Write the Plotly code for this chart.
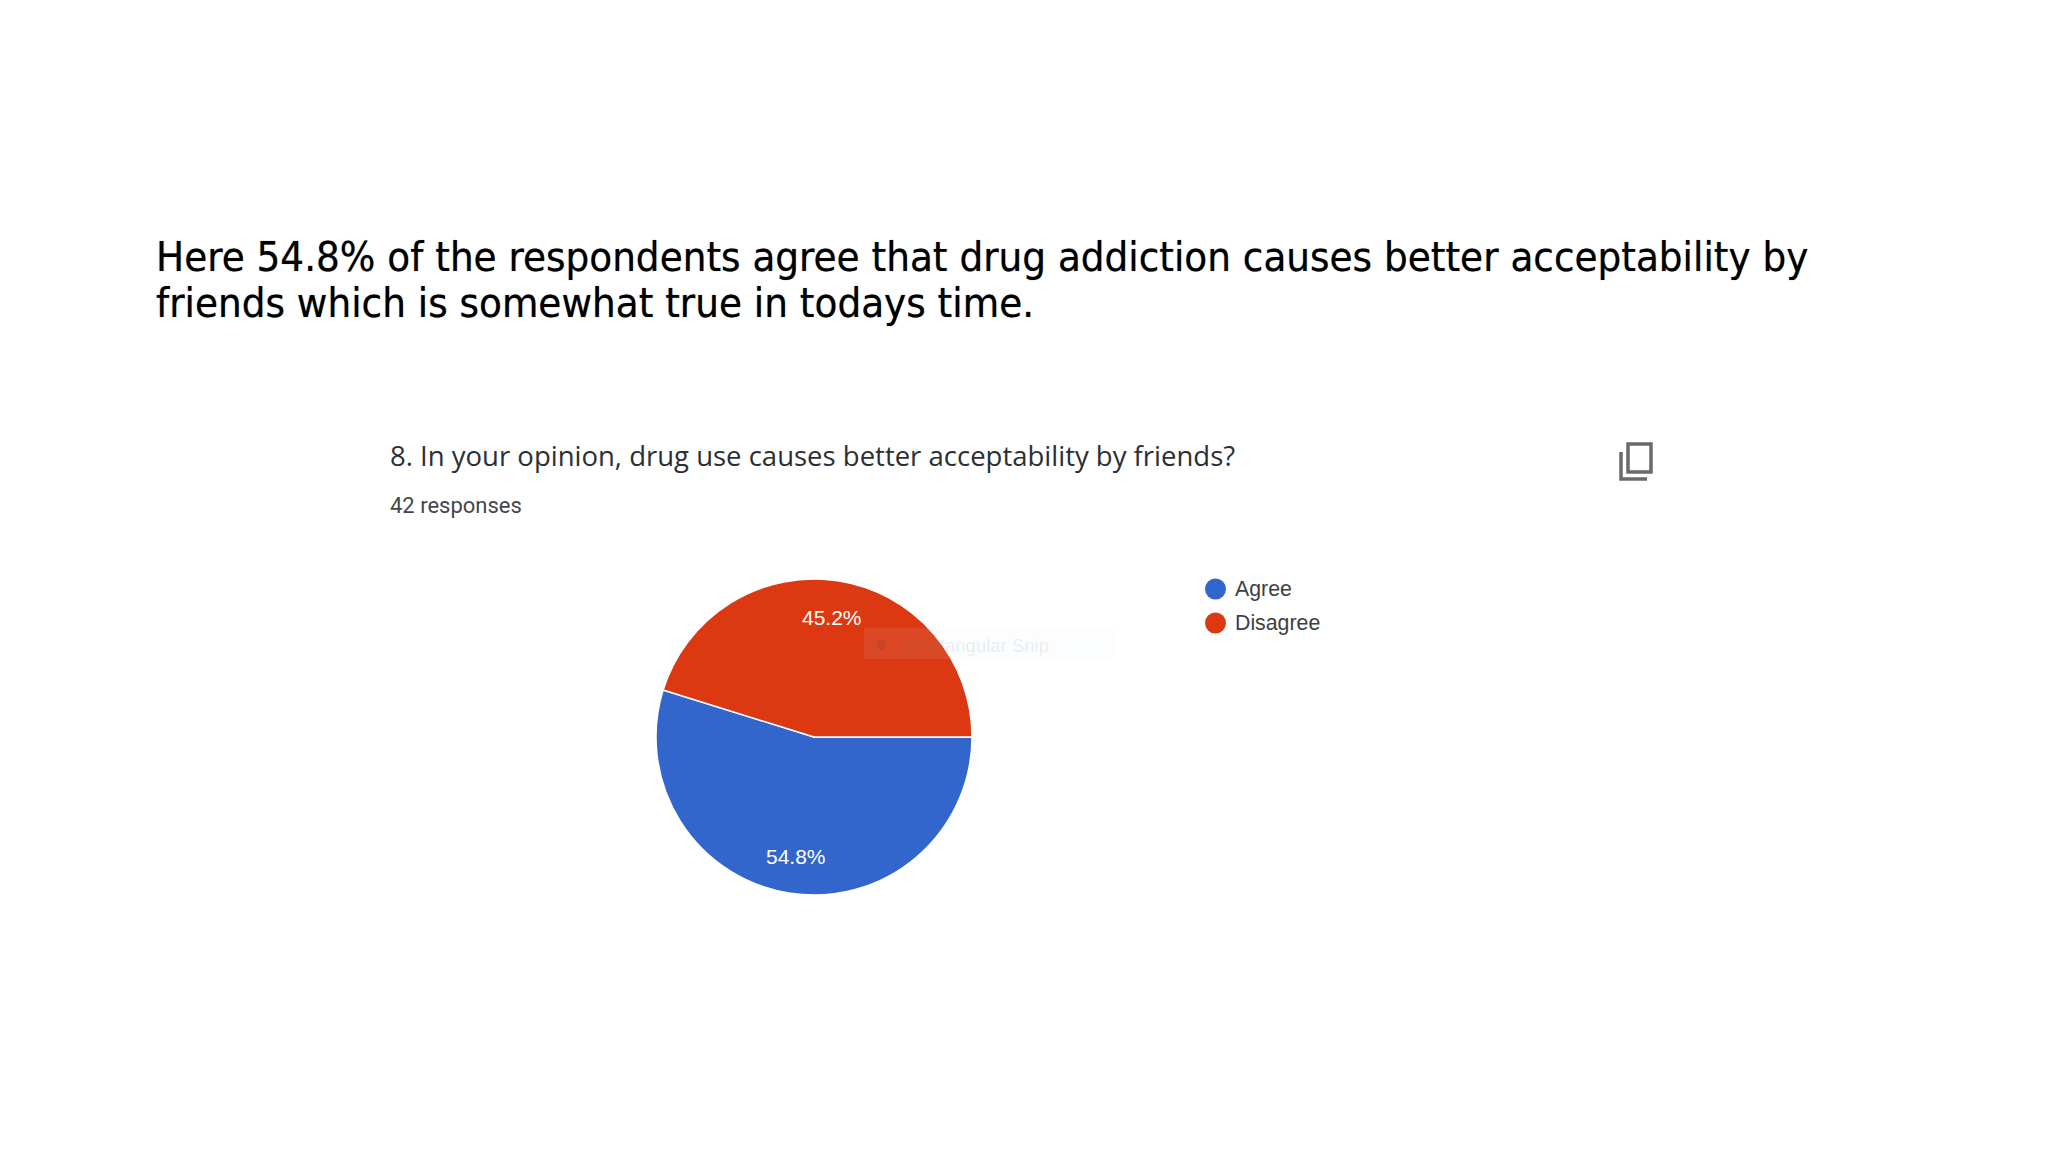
import math
import plotly.graph_objects as go

W = 2048
H = 1152

labels = ["Agree", "Disagree"]
values = [54.8, 45.2]
colors = ["#3366cc", "#dc3912"]

heading_lines = [
    "Here 54.8% of the respondents agree that drug addiction causes better acceptability by",
    "friends which is somewhat true in todays time.",
]
question = "8. In your opinion, drug use causes better acceptability by friends?"
responses = "42 responses"

cx, cy, radius = 814, 737, 158


def px(x):
    return x / W


def py(y):
    return 1 - y / H


def text(x, y, s, size, color, family, anchor="left", shadow=None):
    font = dict(size=size, color=color, family=family)
    if shadow:
        font["shadow"] = shadow
    fig.add_annotation(
        x=px(x), y=py(y), xref="paper", yref="paper", text=s, showarrow=False,
        xanchor=anchor, yanchor="middle", font=font,
    )


fig = go.Figure()

# pie
fig.add_trace(go.Pie(
    labels=labels, values=values, sort=False, direction="clockwise", rotation=90,
    marker=dict(colors=colors, line=dict(color="white", width=1.5)),
    textinfo="none",
    domain=dict(x=[px(cx - radius), px(cx + radius)], y=[py(cy + radius), py(cy - radius)]),
    showlegend=False, hoverinfo="label+percent",
))

# slice labels sit further out than plotly's inside text, so place them on each bisector
start = 0
for v in values:
    mid = math.radians((start + v / 2) * 3.6)
    text(cx + 120.5 * math.cos(mid), cy + 120.5 * math.sin(mid), f"{v}%", 21, "white",
         "Liberation Sans", anchor="center")
    start += v

# heading, the shadow thickens it a bit towards the original's weight
heavy = "0 0 1px rgba(0,0,0,0.55)"
text(154, 256, heading_lines[0], 41.6, "#000000", "DejaVu Sans Condensed", shadow=heavy)
text(154, 303, heading_lines[1], 41.6, "#000000", "DejaVu Sans Condensed", shadow=heavy)

# question
text(388, 455, question, 27.5, "#2b2f33", "Open Sans")
text(388, 505, responses, 22, "#44474a", "Roboto")

# legend
for i, lab in enumerate(labels):
    yy = 589 + i * 34
    fig.add_shape(type="circle", xref="paper", yref="paper",
                  x0=px(1205), x1=px(1226), y0=py(yy + 10.5), y1=py(yy - 10.5),
                  fillcolor=colors[i], line_width=0)
    text(1233, yy, lab, 21.3, "#3c3f42", "Liberation Sans")

# faint tooltip left over in the screenshot
fig.add_shape(type="rect", xref="paper", yref="paper",
              x0=px(864), x1=px(1115), y0=py(659), y1=py(628),
              fillcolor="rgba(215,235,245,0.09)", line_width=0)
fig.add_shape(type="circle", xref="paper", yref="paper",
              x0=px(876), x1=px(886), y0=py(650), y1=py(640),
              fillcolor="rgba(90,60,60,0.15)", line_width=0)
text(905, 645, "Rectangular Snip", 18.5, "rgba(120,120,120,0.14)", "Liberation Sans")

# copy icon
fig.add_shape(type="rect", xref="paper", yref="paper",
              x0=px(1628), x1=px(1651), y0=py(472), y1=py(444),
              line=dict(color="#6a6a6a", width=3.5), fillcolor="rgba(0,0,0,0)")
fig.add_shape(type="path", xref="paper", yref="paper",
              path=f"M {px(1621)} {py(452)} L {px(1621)} {py(479)} L {px(1647)} {py(479)}",
              line=dict(color="#6a6a6a", width=3.5))

fig.update_layout(
    width=W, height=H, margin=dict(l=0, r=0, t=0, b=0),
    paper_bgcolor="white", plot_bgcolor="white",
)

fig.write_html("out.html", config={"displayModeBar": False},
               post_script="document.body.style.margin='0';")
